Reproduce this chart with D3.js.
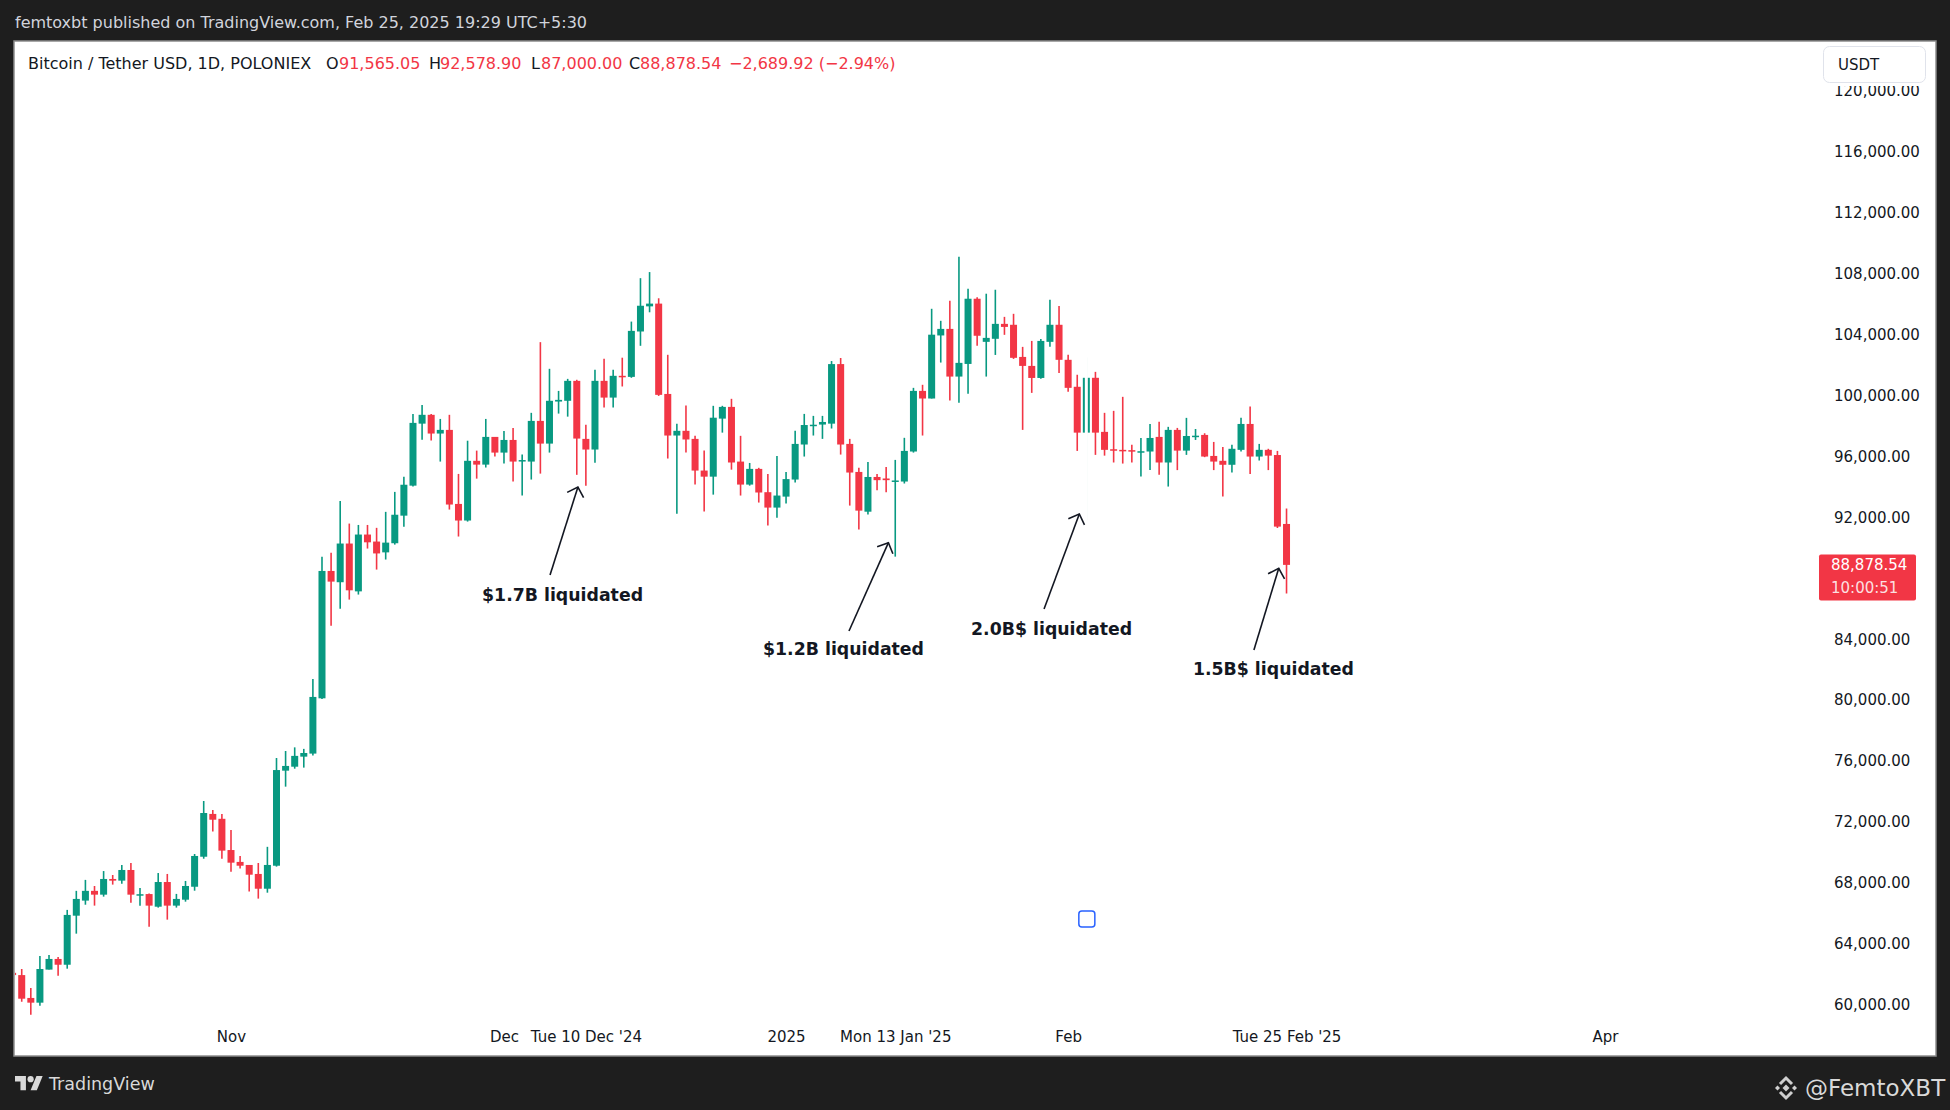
<!DOCTYPE html>
<html>
<head>
<meta charset="utf-8">
<script src="https://cdn.jsdelivr.net/npm/d3@7"></script>
<style>
  body { margin: 0; background: #1e1e1e; overflow: hidden; }
  svg { display: block; }
  text { font-family: "DejaVu Sans", sans-serif; }
</style>
</head>
<body>
<svg id="main-svg"></svg>
<script>
// daily candles, BTC/USDT Poloniex
const dates = [
  "2024-10-08","2024-10-09","2024-10-10","2024-10-11","2024-10-12","2024-10-13","2024-10-14","2024-10-15","2024-10-16","2024-10-17",
  "2024-10-18","2024-10-19","2024-10-20","2024-10-21","2024-10-22","2024-10-23","2024-10-24","2024-10-25","2024-10-26","2024-10-27",
  "2024-10-28","2024-10-29","2024-10-30","2024-10-31",
  "2024-11-01","2024-11-02","2024-11-03","2024-11-04","2024-11-05","2024-11-06","2024-11-07","2024-11-08","2024-11-09","2024-11-10",
  "2024-11-11","2024-11-12","2024-11-13","2024-11-14","2024-11-15","2024-11-16","2024-11-17","2024-11-18","2024-11-19","2024-11-20",
  "2024-11-21","2024-11-22","2024-11-23","2024-11-24","2024-11-25","2024-11-26","2024-11-27","2024-11-28","2024-11-29","2024-11-30",
  "2024-12-01","2024-12-02","2024-12-03","2024-12-04","2024-12-05","2024-12-06","2024-12-07","2024-12-08","2024-12-09","2024-12-10",
  "2024-12-11","2024-12-12","2024-12-13","2024-12-14","2024-12-15","2024-12-16","2024-12-17","2024-12-18","2024-12-19","2024-12-20",
  "2024-12-21","2024-12-22","2024-12-23","2024-12-24","2024-12-25","2024-12-26","2024-12-27","2024-12-28","2024-12-29","2024-12-30",
  "2024-12-31",
  "2025-01-01","2025-01-02","2025-01-03","2025-01-04","2025-01-05","2025-01-06","2025-01-07","2025-01-08","2025-01-09","2025-01-10",
  "2025-01-11","2025-01-12","2025-01-13","2025-01-14","2025-01-15","2025-01-16","2025-01-17","2025-01-18","2025-01-19","2025-01-20",
  "2025-01-21","2025-01-22","2025-01-23","2025-01-24","2025-01-25","2025-01-26","2025-01-27","2025-01-28","2025-01-29","2025-01-30",
  "2025-01-31",
  "2025-02-01","2025-02-02","2025-02-03","2025-02-04","2025-02-05","2025-02-06","2025-02-07","2025-02-08","2025-02-09","2025-02-10",
  "2025-02-11","2025-02-12","2025-02-13","2025-02-14","2025-02-15","2025-02-16","2025-02-17","2025-02-18","2025-02-19","2025-02-20",
  "2025-02-21","2025-02-22","2025-02-23","2025-02-24","2025-02-25"
];
const opens = [
  62100, 61950, 60450, 60140, 62310, 63010, 62630, 65850, 66840, 67480, 67230, 68260, 68150, 68850, 67230, 67270, 66440, 68060, 66510, 66900, 67750, 69720, 72530, 72210,
  70160, 69380, 69180, 68590, 67620, 69130, 75370, 75630, 76290, 76490, 80120, 88480, 87740, 90280, 87140, 90870, 90410, 89700, 90300, 92110, 94080, 98150, 98730, 97500, 97740, 92880, 91790, 95710, 95460, 97280,
  96250, 97080, 95700, 95660, 98330, 96840, 99600, 99650, 100960, 97150, 96450, 100960, 99860, 101290, 101220, 104200, 105850, 106030, 100100, 97370, 97680, 97150, 95070, 94670, 98480, 99250, 95660, 94150, 95180, 93650, 92640,
  93360, 94480, 96780, 98060, 98090, 98150, 102060, 96820, 94980, 92370, 94650, 94550, 94390, 94350, 96320, 100300, 99800, 103940, 104370, 101240, 102070, 106350, 103520, 103720, 104700, 104640, 102530, 101940, 101150, 103520, 104640,
  102340, 100570, 97560, 101160, 97610, 96470, 96430, 96410, 96320, 96320, 97280, 95600, 97740, 96380, 97310, 97410, 96030, 95710, 95450, 96430, 98130, 95990, 96430, 96090, 91565.05
];
const highs = [
  62300, 62350, 61100, 63210, 63270, 63140, 66230, 67480, 68200, 67800, 68780, 68520, 69180, 69310, 67670, 67300, 68650, 68590, 67280, 68130, 69900, 73380, 72790, 72530,
  71480, 69770, 69180, 69310, 70370, 76200, 76660, 76900, 76800, 81390, 89420, 89670, 93080, 91590, 91500, 91500, 91310, 92360, 93670, 94660, 98790, 99380, 98790, 98460, 98730, 94850, 97030, 96380, 98460, 97280,
  97670, 97870, 96120, 98860, 103500, 101750, 100300, 101090, 101030, 98070, 101680, 102410, 101680, 102480, 104850, 107700, 108100, 106380, 102670, 98150, 99340, 97350, 96380, 99320, 99320, 99780, 97350, 95570, 95250, 94850, 96030,
  94980, 97680, 98790, 98660, 98660, 102260, 102460, 97150, 95250, 95640, 94850, 95310, 95770, 97220, 100500, 100700, 105690, 104900, 106220, 109110, 107000, 106450, 106680, 106940, 105160, 105360, 103190, 103580, 103700, 106280, 105880,
  102670, 101360, 102500, 101550, 98860, 98990, 99910, 96760, 97210, 98130, 98270, 97940, 97870, 98530, 97800, 97520, 96950, 96620, 96760, 98530, 99270, 96820, 96500, 96360, 92578.90
];
const lows = [
  61800, 60200, 59350, 59940, 62310, 61910, 62370, 64670, 66570, 66510, 67100, 67890, 67950, 66700, 66510, 65130, 66380, 65590, 66380, 66770, 67490, 69590, 71370, 69590,
  68740, 68940, 67430, 66970, 67360, 69070, 74320, 75500, 75570, 76360, 80070, 84890, 86000, 86600, 86930, 89950, 88570, 89230, 90210, 91390, 94020, 97100, 97040, 95660, 92510, 90740, 91720, 94540, 95270, 95990,
  95530, 94350, 93430, 94480, 94870, 96250, 98810, 98610, 94790, 94080, 95590, 99210, 99210, 100590, 101160, 103260, 105460, 99970, 95860, 92240, 96250, 94150, 92380, 93490, 97560, 95130, 93430, 94080, 92970, 91460, 91970,
  92900, 94280, 95990, 97370, 97150, 97830, 96120, 92770, 91200, 92180, 93780, 93650, 89420, 94220, 96250, 97370, 99800, 102160, 99670, 99530, 100120, 103260, 101240, 102660, 103980, 102400, 97740, 100170, 101100, 103190, 101480,
  100240, 96360, 91800, 96100, 96050, 95600, 95530, 95600, 94680, 95100, 94800, 94020, 95100, 96100, 97080, 95950, 95100, 93360, 94940, 96320, 94850, 95730, 95100, 91300, 87000.00
];
const closes = [
  61950, 60400, 60140, 62350, 63010, 62630, 65900, 66950, 67480, 67230, 68260, 68150, 68850, 67230, 67260, 66510, 68060, 66510, 66950, 67800, 69770, 72590, 72150, 70120,
  69330, 69130, 68540, 67620, 69180, 75410, 75680, 76340, 76530, 80210, 88480, 87780, 90280, 87210, 90870, 90360, 89630, 90340, 92170, 94140, 98200, 98730, 97500, 97740, 92840, 91790, 95710, 95460, 97280, 96250,
  97080, 95660, 95760, 98330, 96840, 99650, 99710, 100960, 97170, 96450, 100960, 99860, 101290, 101220, 104240, 105890, 106030, 100040, 97370, 97680, 97110, 95070, 94670, 98540, 99250, 95600, 94150, 95180, 93630, 92640, 93430,
  94510, 96820, 98060, 98080, 98260, 102060, 96780, 94940, 92440, 94650, 94440, 94440, 94420, 96360, 100300, 99800, 103990, 104370, 101240, 102140, 106350, 103920, 103780, 104700, 104500, 102470, 101940, 101150, 103580, 104640, 102340,
  100500, 97560, 101160, 97560, 96430, 96400, 96400, 96380, 96340, 97210, 95600, 97740, 96380, 97340, 97360, 95990, 95660, 95450, 96500, 98130, 95990, 96430, 96050, 91390, 88878.54
];

// axis ticks (88,000 sits under the last-price label, not drawn in the picture)
const priceTicks = [60000, 64000, 68000, 72000, 76000, 80000, 84000, 92000, 96000, 100000, 104000, 108000, 112000, 116000, 120000];
const timeTickDates = ["2024-11-01", "2024-12-01", "2024-12-10", "2025-01-01", "2025-01-13", "2025-02-01", "2025-02-25", "2025-04-01"];
const timeTickLabels = ["Nov", "Dec", "Tue 10 Dec '24", "2025", "Mon 13 Jan '25", "Feb", "Tue 25 Feb '25", "Apr"];

// liquidation notes: arrow tip and tail in (date, price)
const notes = [
  { label: "$1.7B liquidated", tipDate: "2024-12-09T03:00:00Z", tipPrice: 93990, tailDate: "2024-12-06T01:30:00Z", tailPrice: 88215 },
  { label: "$1.2B liquidated", tipDate: "2025-01-12T06:00:00Z", tipPrice: 90336, tailDate: "2025-01-07T22:00:00Z", tailPrice: 84539 },
  { label: "2.0B$ liquidated", tipDate: "2025-02-02T05:30:00Z", tipPrice: 92220, tailDate: "2025-01-29T08:30:00Z", tailPrice: 85983 },
  { label: "1.5B$ liquidated", tipDate: "2025-02-24T03:30:00Z", tipPrice: 88655, tailDate: "2025-02-21T10:00:00Z", tailPrice: 83293 }
];
const noteTextOffsets = [[12.5, 26], [-5.5, 24], [7.5, 26], [19.5, 25]];

const headerText = "femtoxbt published on TradingView.com, Feb 25, 2025 19:29 UTC+5:30";
const symbolText = "Bitcoin / Tether USD, 1D, POLONIEX";
const lastPrice = 88878.54;
const changeText = "\u22122,689.92 (\u22122.94%)";
const countdownText = "10:00:51";

const UP = "#089981";
const DOWN = "#f23645";
const INK = "#131722";

const svg = d3.select("#main-svg").attr("width", 1950).attr("height", 1110);
const parseDay = d3.utcParse("%Y-%m-%d");
const fmt = d3.format(",.2f");

const candles = dates.map((d, i) => ({
  date: parseDay(d), open: opens[i], high: highs[i], low: lows[i], close: closes[i]
}));

const x = d3.scaleUtc()
  .domain([parseDay("2024-11-01"), parseDay("2025-04-01")])
  .range([231, 1605]);
const y = d3.scaleLinear()
  .domain([60000, 120000])
  .range([1004.8, 90.8]);

// background + snapshot header
svg.append("rect").attr("width", 1950).attr("height", 1110).attr("fill", "#1e1e1e");
svg.append("text")
  .attr("x", 15).attr("y", 28)
  .attr("font-size", 16)
  .attr("fill", "#d1d4dc")
  .attr("textLength", 572)
  .attr("lengthAdjust", "spacingAndGlyphs")
  .text(headerText);

// white chart panel
svg.append("rect")
  .attr("x", 14).attr("y", 41)
  .attr("width", 1922).attr("height", 1015)
  .attr("fill", "#ffffff")
  .attr("stroke", "#8c8c8c")
  .attr("stroke-width", 1.5);

svg.append("defs").append("clipPath").attr("id", "plot-clip")
  .append("rect").attr("x", 15).attr("y", 42).attr("width", 1800).attr("height", 1013);

const plot = svg.append("g").attr("clip-path", "url(#plot-clip)");
const color = d => d.close >= d.open ? UP : DOWN;

plot.selectAll("line.wick")
  .data(candles)
  .join("line")
  .attr("class", "wick")
  .attr("x1", d => x(d.date)).attr("x2", d => x(d.date))
  .attr("y1", d => y(d.high)).attr("y2", d => y(d.low))
  .attr("stroke", color)
  .attr("stroke-width", 1.6);

plot.selectAll("rect.body")
  .data(candles)
  .join("rect")
  .attr("class", "body")
  .attr("x", d => x(d.date) - 3.5)
  .attr("width", 7)
  .attr("y", d => y(Math.max(d.open, d.close)))
  .attr("height", d => Math.max(1.5, Math.abs(y(d.open) - y(d.close))))
  .attr("fill", color);

// vertical drawing line (white) with its handle
const handleDate = parseDay("2025-02-03");
plot.append("line")
  .attr("x1", x(handleDate)).attr("x2", x(handleDate))
  .attr("y1", 42).attr("y2", 910)
  .attr("stroke", "#ffffff")
  .attr("stroke-width", 3);
svg.append("rect")
  .attr("x", x(handleDate) - 7.5).attr("y", 911)
  .attr("width", 16).attr("height", 16)
  .attr("rx", 3)
  .attr("fill", "#ffffff")
  .attr("stroke", "#2962ff")
  .attr("stroke-width", 1.5);

// arrows + labels
const arrows = svg.append("g");
notes.forEach((n, i) => {
  const tx = x(d3.isoParse(n.tipDate)), ty = y(n.tipPrice);
  const sx = x(d3.isoParse(n.tailDate)), sy = y(n.tailPrice);
  const ang = Math.atan2(sy - ty, sx - tx);
  const len = 12;
  arrows.append("line")
    .attr("x1", sx).attr("y1", sy).attr("x2", tx).attr("y2", ty)
    .attr("stroke", INK).attr("stroke-width", 1.6);
  arrows.append("path")
    .attr("d", `M${tx + len * Math.cos(ang - 0.8)},${ty + len * Math.sin(ang - 0.8)}L${tx},${ty}L${tx + len * Math.cos(ang + 0.8)},${ty + len * Math.sin(ang + 0.8)}`)
    .attr("fill", "none").attr("stroke", INK).attr("stroke-width", 1.6);
  arrows.append("text")
    .attr("x", sx + noteTextOffsets[i][0])
    .attr("y", sy + noteTextOffsets[i][1])
    .attr("text-anchor", "middle")
    .attr("font-size", 17.5)
    .attr("font-weight", "bold")
    .attr("fill", INK)
    .attr("textLength", 161)
    .attr("lengthAdjust", "spacingAndGlyphs")
    .text(n.label);
});

// price scale
const yAxis = d3.axisRight(y)
  .tickValues(priceTicks)
  .tickFormat(fmt)
  .tickSize(0)
  .tickPadding(0);
svg.append("g")
  .attr("transform", "translate(1834,0)")
  .call(yAxis)
  .call(g => g.select(".domain").remove())
  .attr("font-family", "DejaVu Sans")
  .attr("font-size", 15)
  .selectAll("text").attr("fill", INK);

// last price label
const py = y(lastPrice);
svg.append("rect")
  .attr("x", 1819).attr("y", py - 10.5)
  .attr("width", 97).attr("height", 46)
  .attr("rx", 2)
  .attr("fill", DOWN);
svg.append("text")
  .attr("x", 1831).attr("y", py + 5.5)
  .attr("font-size", 15).attr("fill", "#ffffff")
  .text(fmt(lastPrice));
svg.append("text")
  .attr("x", 1831).attr("y", py + 28)
  .attr("font-size", 15).attr("fill", "#ffffff").attr("fill-opacity", 0.85)
  .text(countdownText);

// currency button (hides top of 120k label)
svg.append("rect").attr("x", 1816).attr("y", 42).attr("width", 119).attr("height", 44).attr("fill", "#ffffff");
svg.append("rect")
  .attr("x", 1823.5).attr("y", 46.5)
  .attr("width", 102).attr("height", 36)
  .attr("rx", 6)
  .attr("fill", "#ffffff")
  .attr("stroke", "#e0e3eb");
svg.append("text")
  .attr("x", 1838).attr("y", 70)
  .attr("font-size", 15).attr("fill", INK)
  .text("USDT");

// time scale
const xAxis = d3.axisBottom(x)
  .tickValues(timeTickDates.map(parseDay))
  .tickFormat((d, i) => timeTickLabels[i])
  .tickSize(0);
svg.append("g")
  .attr("transform", "translate(0,1028)")
  .call(xAxis)
  .call(g => g.select(".domain").remove())
  .attr("font-family", "DejaVu Sans")
  .attr("font-size", 15)
  .selectAll("text").attr("fill", INK);

// legend line
const legend = svg.append("text").attr("y", 69).attr("font-size", 16);
const legendParts = [
  { t: symbolText, x: 28, c: INK },
  { t: "O", x: 326, c: INK }, { t: fmt(opens[opens.length - 1]), x: 339, c: DOWN },
  { t: "H", x: 429, c: INK }, { t: fmt(highs[highs.length - 1]), x: 440, c: DOWN },
  { t: "L", x: 531, c: INK }, { t: fmt(lows[lows.length - 1]), x: 541, c: DOWN },
  { t: "C", x: 629, c: INK }, { t: fmt(closes[closes.length - 1]), x: 640, c: DOWN },
  { t: changeText, x: 729, c: DOWN }
];
legendParts.forEach(p => {
  legend.append("tspan").attr("x", p.x).attr("fill", p.c).text(p.t);
});

// footer: TradingView logo
const tv = svg.append("g").attr("transform", "translate(15,1073) scale(0.78)").attr("fill", "#d9d9d9");
tv.append("path").attr("d", "M0,4H14V22H7V11H0Z");
tv.append("circle").attr("cx", 20).attr("cy", 8).attr("r", 4);
tv.append("path").attr("d", "M20,22L27.5,4H35.5L28,22Z");
svg.append("text")
  .attr("x", 49).attr("y", 1090)
  .attr("font-size", 17.5)
  .attr("fill", "#d9d9d9")
  .text("TradingView");

// footer: author tag with diamond logo
const bn = svg.append("g").attr("transform", "translate(1786,1088)").attr("fill", "#cfcfcf").attr("stroke", "#cfcfcf");
bn.append("path").attr("d", "M0,-3.5L3.5,0L0,3.5L-3.5,0Z").attr("stroke", "none");
bn.append("path").attr("d", "M-11,0L-8.5,-2.5L-6,0L-8.5,2.5Z").attr("stroke", "none");
bn.append("path").attr("d", "M11,0L8.5,-2.5L6,0L8.5,2.5Z").attr("stroke", "none");
bn.append("path").attr("d", "M-6,-4L0,-10L6,-4").attr("fill", "none").attr("stroke-width", 3);
bn.append("path").attr("d", "M-6,4L0,10L6,4").attr("fill", "none").attr("stroke-width", 3);
svg.append("text")
  .attr("x", 1805).attr("y", 1096)
  .attr("font-family", "Liberation Sans, Arial, sans-serif")
  .attr("font-size", 23)
  .attr("fill", "#d9d9d9")
  .text("@FemtoXBT");
</script>
</body>
</html>
